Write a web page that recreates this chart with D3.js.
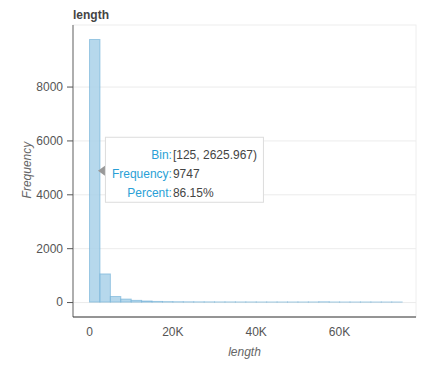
<!DOCTYPE html>
<html>
<head>
<meta charset="utf-8">
<script src="https://cdn.jsdelivr.net/npm/d3@7"></script>
<style>
  body { margin: 0; background: #fff; font-family: "Liberation Sans", Arial, sans-serif; }
  .tick text { fill: #555; font-size: 12px; }
  .axisText { fill: #666; font-size: 12px; font-style: italic; }
</style>
</head>
<body>
<div id="chart"></div>
<script>
// Histogram of "length": 30 equal bins starting at 125
var binStart = 125;
var binStep = 2500.967;
var binCounts = [9747, 1043, 205, 110, 62, 38, 22, 14, 10, 8,
                 6, 5, 4, 4, 3, 3, 2, 2, 2, 2,
                 2, 3, 8, 2, 1, 1, 2, 1, 1, 1];
var yTicks = [0, 2000, 4000, 6000, 8000];
var xTicks = [0, 20000, 40000, 60000];
var hoverBin = 0;

var svgWidth = 442;
var svgHeight = 367;
var chartMargin = { top: 25, right: 26, bottom: 50, left: 73 };
var chartWidth = svgWidth - chartMargin.left - chartMargin.right;
var chartHeight = svgHeight - chartMargin.top - chartMargin.bottom;

var bins = binCounts.map(function(c, i) {
  return { x0: binStart + i * binStep, x1: binStart + (i + 1) * binStep, count: c };
});
var total = d3.sum(binCounts);

var svg = d3.select("#chart").append("svg")
  .attr("width", svgWidth)
  .attr("height", svgHeight);

// title
svg.append("text")
  .attr("x", chartMargin.left)
  .attr("y", 19)
  .attr("font-size", "12px")
  .attr("font-weight", "bold")
  .attr("fill", "#444")
  .text("length");

var chartGroup = svg.append("g")
  .attr("transform", `translate(${chartMargin.left}, ${chartMargin.top})`);

var xScaler = d3.scaleLinear()
  .domain([-3840, 78480])
  .range([0, chartWidth]);

var yScaler = d3.scaleLinear()
  .domain([-555, 10285])
  .range([chartHeight, 0]);

// frame
chartGroup.append("rect")
  .attr("width", chartWidth)
  .attr("height", chartHeight)
  .attr("fill", "none")
  .attr("stroke", "#eee");

// grid lines
chartGroup.selectAll(".grid")
  .data(yTicks)
  .enter()
  .append("line")
  .attr("x1", 0)
  .attr("x2", chartWidth)
  .attr("y1", d => yScaler(d) + 0.5)
  .attr("y2", d => yScaler(d) + 0.5)
  .attr("stroke", "#ececec");

// bars
chartGroup.selectAll(".bar")
  .data(bins)
  .enter()
  .append("rect")
  .attr("x", d => xScaler(d.x0))
  .attr("width", d => xScaler(d.x1) - xScaler(d.x0))
  .attr("y", d => yScaler(d.count))
  .attr("height", d => yScaler(0) - yScaler(d.count))
  .attr("fill", "#a9d1e9")
  .attr("fill-opacity", 0.85)
  .attr("stroke", "#6aaed6")
  .attr("stroke-opacity", 0.6)
  .attr("stroke-width", 1);

// axes
var leftAxis = d3.axisLeft(yScaler).tickValues(yTicks).tickSize(6).tickPadding(4).tickFormat(d3.format("d"));
var bottomAxis = d3.axisBottom(xScaler).tickValues(xTicks).tickSize(0).tickPadding(10)
  .tickFormat(d => d === 0 ? "0" : (d / 1000) + "K");

var yAxisG = chartGroup.append("g").call(leftAxis);
yAxisG.select(".domain").attr("stroke", "#666").attr("d", `M0,0V${chartHeight}`);
yAxisG.selectAll(".tick line").attr("stroke", "#555");
yAxisG.selectAll("text").attr("font-family", "Liberation Sans, Arial, sans-serif");

var xAxisG = chartGroup.append("g")
  .attr("transform", `translate(0, ${chartHeight})`)
  .call(bottomAxis);
xAxisG.select(".domain").attr("stroke", "#333").attr("d", `M0,0H${chartWidth}`);
xAxisG.selectAll("text").attr("font-family", "Liberation Sans, Arial, sans-serif");

// axis labels
chartGroup.append("text")
  .attr("class", "axisText")
  .attr("transform", "rotate(-90)")
  .attr("x", 0 - (yScaler(4900)))
  .attr("y", 0 - chartMargin.left + 31)
  .attr("text-anchor", "middle")
  .text("Frequency");

chartGroup.append("text")
  .attr("class", "axisText")
  .attr("x", chartWidth / 2)
  .attr("y", chartHeight + 39)
  .attr("text-anchor", "middle")
  .text("length");

// tooltip
var hb = bins[hoverBin];
var tipX = xScaler(hb.x1) + 5;
var tipY = yScaler(hb.count / 2);
var tip = chartGroup.append("g")
  .attr("transform", `translate(${tipX}, ${tipY})`);

tip.append("rect")
  .attr("x", 0.5)
  .attr("y", -33.5)
  .attr("width", 158)
  .attr("height", 65)
  .attr("fill", "#fff")
  .attr("stroke", "#ddd");

tip.append("path")
  .attr("d", "M-7,0L0,-5L0,5Z")
  .attr("fill", "#999");

var fmt = d3.format(".3f");
var tipRows = [
  ["Bin:", "[" + hb.x0 + ", " + fmt(hb.x1) + ")"],
  ["Frequency:", String(hb.count)],
  ["Percent:", d3.format(".2f")(hb.count / total * 100) + "%"]
];

tipRows.forEach(function(r, i) {
  var y = -16 + i * 19;
  tip.append("text")
    .attr("x", 67)
    .attr("y", y + 4)
    .attr("text-anchor", "end")
    .attr("font-size", "12px")
    .attr("fill", "#2a9fd6")
    .text(r[0]);
  tip.append("text")
    .attr("x", 68)
    .attr("y", y + 4)
    .attr("font-size", "12px")
    .attr("fill", "#444")
    .text(r[1]);
});
</script>
</body>
</html>
